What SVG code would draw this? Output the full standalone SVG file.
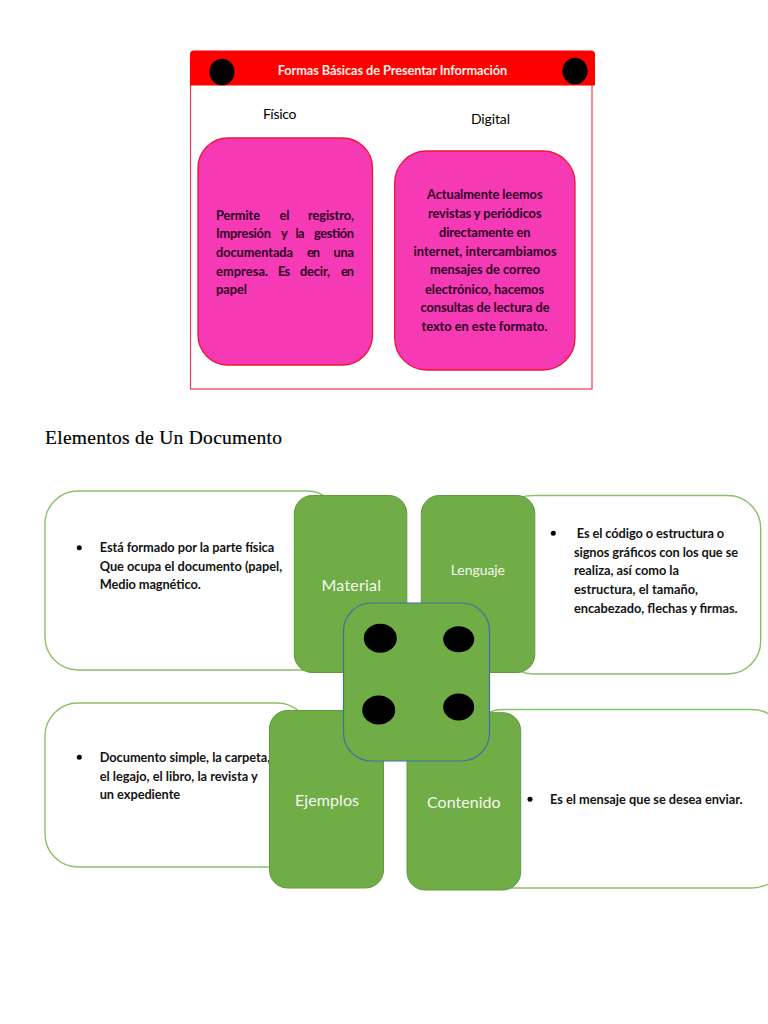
<svg xmlns="http://www.w3.org/2000/svg" width="768" height="1024" viewBox="0 0 768 1024">
<style>
text{font-family:"Lato","Carlito","Liberation Sans",sans-serif;fill:#000}
.b{font-size:12.8px;font-weight:700;fill:#141414}
.p{font-size:12.8px;font-weight:700;fill:#2c0024}
.w{fill:#f4f8f0;font-size:16px}
.pink{fill:#f639b5;stroke:#f5142f;stroke-width:1.3}
.out{fill:#fff;stroke:#8cc06a;stroke-width:1.4}
.gr{fill:#70ad47;stroke:#5f9a3d;stroke-width:1}
.dot{fill:#000}
</style>
<rect width="768" height="1024" fill="#fff"/>
<g id="info-card">
<rect x="190.5" y="60" width="401.5" height="329" fill="#fff" stroke="#ef3b4c" stroke-width="1.2"/>
<path d="M190 85.5V54.5Q190 50.5 194 50.5H591Q595 50.5 595 54.5V85.5Z" fill="#fe0000"/>
<ellipse class="dot" cx="222" cy="72" rx="12.5" ry="13.3"/>
<ellipse class="dot" cx="575" cy="71" rx="12.5" ry="13.3"/>
<text x="277.7" y="74.5" textLength="229.5" style="font-size:12.8px;fill:#fff0e8;font-weight:700">Formas Básicas de Presentar Información</text>
</g>
<g id="fisico">
<text x="263" y="118.5" textLength="33.5" style="font-size:14px">Físico</text>
<rect class="pink" x="198" y="138" width="174.5" height="227" rx="30"/>
<text class="p" x="216" y="219.5" textLength="44">Permite</text><text class="p" x="279.5" y="219.5" textLength="10">el</text><text class="p" x="308" y="219.5" textLength="46">registro,</text>
<text class="p" x="216" y="238" textLength="55">Impresión</text><text class="p" x="281" y="238">y</text><text class="p" x="295.5" y="238" textLength="9">la</text><text class="p" x="314" y="238" textLength="40">gestión</text>
<text class="p" x="216" y="257" textLength="77">documentada</text><text class="p" x="307" y="257" textLength="13">en</text><text class="p" x="333.5" y="257" textLength="20.5">una</text>
<text class="p" x="216" y="275.5" textLength="52">empresa.</text><text class="p" x="278" y="275.5" textLength="12">Es</text><text class="p" x="300" y="275.5" textLength="30">decir,</text><text class="p" x="341" y="275.5" textLength="13">en</text>
<text class="p" x="216" y="294" textLength="31">papel</text>
</g>
<g id="digital">
<text x="471" y="124" textLength="39" style="font-size:14px">Digital</text>
<rect class="pink" x="394.7" y="151" width="180.3" height="219" rx="32"/>
<text class="p" x="427" y="199" textLength="115.5">Actualmente leemos</text>
<text class="p" x="428" y="218" textLength="113.5">revistas y periódicos</text>
<text class="p" x="439" y="236.7" textLength="91.5">directamente en</text>
<text class="p" x="413.5" y="255.5" textLength="143">internet, intercambiamos</text>
<text class="p" x="430" y="274" textLength="110">mensajes de correo</text>
<text class="p" x="425" y="293.5" textLength="119">electrónico, hacemos</text>
<text class="p" x="420.5" y="312" textLength="129">consultas de lectura de</text>
<text class="p" x="421.5" y="330.7" textLength="126">texto en este formato.</text>
</g>
<text id="title" x="45" y="443.5" textLength="237" style="font-family:'Liberation Serif',serif;font-size:19.5px;stroke:#000;stroke-width:.2">Elementos de Un Documento</text>
<g id="material-note">
<rect class="out" x="45" y="491" width="295" height="179" rx="33"/>
<circle class="dot" cx="79.3" cy="547.7" r="2.5"/>
<text class="b" x="99.7" y="552.3" textLength="174.5">Está formado por la parte física</text>
<text class="b" x="99.7" y="571" textLength="182.5">Que ocupa el documento (papel,</text>
<text class="b" x="99.7" y="589.3" textLength="101">Medio magnético.</text>
</g>
<g id="lenguaje-note">
<rect class="out" x="500" y="495.5" width="260.7" height="178.5" rx="33"/>
<circle class="dot" cx="553.3" cy="533.3" r="2.5"/>
<text class="b" x="576.7" y="538.3" textLength="147.5">Es el código o estructura o</text>
<text class="b" x="574" y="556.7" textLength="164">signos gráficos con los que se</text>
<text class="b" x="574" y="575" textLength="105">realiza, así como la</text>
<text class="b" x="574" y="594" textLength="124">estructura, el tamaño,</text>
<text class="b" x="574" y="612.7" textLength="163.5">encabezado, flechas y firmas.</text>
</g>
<g id="ejemplos-note">
<rect class="out" x="45" y="703" width="265" height="164" rx="33"/>
<circle class="dot" cx="79.3" cy="757.3" r="2.5"/>
<text class="b" x="99.7" y="762.3" textLength="170.5">Documento simple, la carpeta,</text>
<text class="b" x="99.7" y="781" textLength="158">el legajo, el libro, la revista y</text>
<text class="b" x="99.7" y="799.3" textLength="80.5">un expediente</text>
</g>
<g id="contenido-note">
<rect class="out" x="470" y="709.5" width="315" height="178.5" rx="33"/>
<circle class="dot" cx="530" cy="799.3" r="2.5"/>
<text class="b" x="550" y="804" textLength="192.5">Es el mensaje que se desea enviar.</text>
</g>
<g id="material">
<rect class="gr" x="294.3" y="495.5" width="112.5" height="177" rx="18"/>
<text class="w" x="321.5" y="590.5" textLength="59.5">Material</text>
</g>
<g id="lenguaje">
<rect class="gr" x="421.3" y="495.5" width="113.5" height="177" rx="18"/>
<text class="w" x="450.7" y="575" textLength="54.3" style="font-size:14px">Lenguaje</text>
</g>
<g id="ejemplos">
<rect class="gr" x="269.5" y="710.5" width="114" height="177.5" rx="18"/>
<text class="w" x="295" y="805.7" textLength="64">Ejemplos</text>
</g>
<g id="contenido">
<rect class="gr" x="407" y="712.7" width="113.7" height="177.3" rx="18"/>
<text class="w" x="427" y="807.7" textLength="73.7">Contenido</text>
</g>
<g id="center">
<rect x="343.5" y="603" width="146" height="158" rx="28" fill="#70ad47" stroke="#41719c" stroke-width="1.2"/>
<ellipse class="dot" cx="380.3" cy="638.3" rx="16.5" ry="14.5"/>
<ellipse class="dot" cx="378.7" cy="710" rx="16.5" ry="14.5"/>
<ellipse class="dot" cx="458.7" cy="639.3" rx="15.5" ry="13"/>
<ellipse class="dot" cx="458.7" cy="707" rx="15.5" ry="13.5"/>
</g>
</svg>
